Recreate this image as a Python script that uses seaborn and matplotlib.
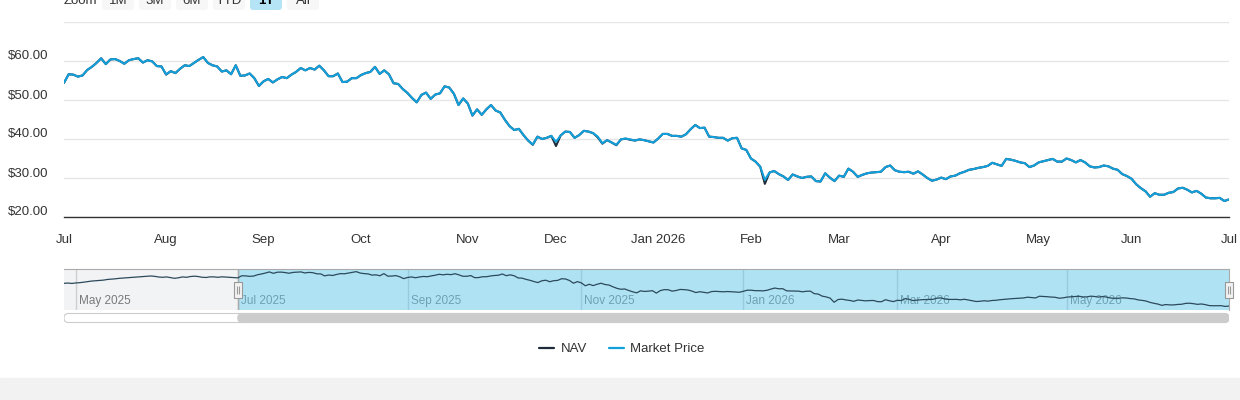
import numpy as np
import pandas as pd
import seaborn as sns
from matplotlib import pyplot as plt
from matplotlib.patches import FancyBboxPatch, Rectangle
from matplotlib.path import Path
from matplotlib.lines import Line2D
from matplotlib.transforms import blended_transform_factory, offset_copy, IdentityTransform, ScaledTranslation

sns.set_style("white")
plt.rcParams['font.family'] = ['Liberation Sans', 'DejaVu Sans']

# market holidays (trading days only, like the ordinal axis of the original)
holidays = ['2025-05-26', '2025-06-19', '2025-07-04', '2025-09-01', '2025-11-27', '2025-12-25',
            '2026-01-01', '2026-01-19', '2026-02-16', '2026-04-03', '2026-05-25', '2026-06-19']

# only shown in the navigator: 28 Apr 2025 - 30 Jun 2025
history = [48.6, 48.9, 48.5,
           49.0, 49.3, 49.8, 50.4, 51.0, 51.3, 51.6, 52.0, 52.7, 53.0, 53.4, 53.9, 54.2, 54.5, 54.8,
           55.0, 55.3, 55.6, 56.0, 56.4, 56.0,
           55.3, 55.0, 55.4, 54.6, 53.9, 54.5, 55.4, 55.0, 55.8, 56.2, 55.8, 55.0, 54.8, 55.5, 55.4,
           55.0, 55.5, 55.2, 54.9, 54.6]

# 1 Jul 2025 - 1 Jul 2026, one value per trading day
market_price = [
    54.4, 56.6, 56.5, 56.0, 56.3, 57.7, 58.5, 59.5, 60.7, 59.2, 60.4, 60.5, 60.0, 59.3, 60.2, 60.5, 60.7, 59.6, 60.2, 59.9, 58.7, 58.6,
    56.6, 57.4, 56.9, 58.0, 58.9, 58.7, 59.5, 60.3, 61.0, 59.5, 58.9, 58.6, 57.3, 57.6, 56.6, 58.9, 56.2, 56.3, 56.8, 55.6, 53.6,
    54.8, 55.4, 54.5, 55.3, 55.9, 55.6, 56.5, 57.2, 58.2, 57.6, 58.2, 57.8, 58.8, 57.6, 56.1, 56.1, 56.8, 54.6, 54.7, 55.6, 55.6,
    56.4, 56.9, 57.2, 58.5, 56.7, 57.6, 56.6, 54.3, 54.1, 52.8, 51.8, 50.5, 49.4, 51.3, 51.9, 50.3, 51.4, 51.7, 53.5, 53.2, 51.6, 48.7, 50.4,
    49.1, 46.0, 47.6, 46.2, 47.6, 48.7, 47.3, 46.8, 44.9, 43.3, 42.3, 42.6, 41.0, 39.6, 38.6, 40.6, 40.0, 40.3, 40.8,
    39.3, 40.9, 41.9, 41.8, 40.3, 41.0, 42.1, 41.9, 41.5, 40.6, 38.9, 39.7, 39.1, 38.5, 39.9, 40.1, 39.9, 39.6, 39.9, 39.7, 39.4, 39.1,
    40.1, 41.3, 41.3, 40.8, 40.8, 40.6, 41.2, 42.5, 43.6, 42.8, 42.9, 40.6, 40.5, 40.3, 40.3, 39.6, 40.2, 40.3, 37.6, 37.2,
    35.0, 34.2, 32.9, 29.5, 31.4, 31.8, 31.0, 30.4, 29.5, 30.9, 30.4, 30.0, 30.3, 30.4, 29.2, 29.1, 31.2, 30.1, 29.2,
    30.6, 30.3, 32.4, 31.6, 30.3, 30.8, 31.2, 31.4, 31.5, 31.6, 32.8, 33.2, 32.0, 31.6, 31.5, 31.6, 31.1, 31.7, 30.9, 30.0, 29.3, 29.6,
    30.1, 29.7, 30.4, 30.6, 31.2, 31.6, 32.1, 32.3, 32.6, 32.8, 33.1, 33.9, 33.5, 33.1, 34.9, 34.7, 34.4, 34.0, 33.8, 32.8, 33.2,
    34.0, 34.3, 34.6, 34.9, 34.2, 34.2, 35.0, 34.6, 34.0, 34.6, 34.0, 33.0, 32.7, 32.8, 33.2, 33.0, 32.4, 32.1, 31.0, 30.5,
    29.8, 28.4, 27.4, 26.6, 25.2, 26.1, 25.7, 25.7, 26.2, 26.4, 27.3, 27.5, 27.0, 26.3, 26.7, 26.0, 25.0, 24.8, 24.8, 24.9, 24.1,
    24.5]

nav = [
    54.4, 56.6, 56.5, 56.0, 56.3, 57.7, 58.5, 59.5, 60.7, 59.2, 60.4, 60.5, 60.0, 59.3, 60.2, 60.5, 60.7, 59.6, 60.2, 59.9, 58.7, 58.6,
    56.5, 57.4, 56.9, 58.0, 58.9, 58.7, 59.5, 60.3, 61.0, 59.5, 58.9, 58.6, 57.3, 57.6, 56.6, 58.9, 56.2, 56.3, 56.8, 55.6, 53.6,
    54.8, 55.4, 54.5, 55.3, 55.9, 55.6, 56.5, 57.2, 58.2, 57.6, 58.2, 57.8, 58.8, 57.6, 56.1, 56.1, 56.8, 54.6, 54.7, 55.6, 55.6,
    56.4, 56.9, 57.2, 58.5, 56.7, 57.6, 56.6, 54.3, 54.1, 52.8, 51.8, 50.5, 49.4, 51.3, 51.9, 50.3, 51.4, 51.7, 53.5, 53.2, 51.6, 48.7, 50.4,
    49.1, 46.0, 47.6, 46.2, 47.6, 48.7, 47.3, 46.8, 44.9, 43.3, 42.3, 42.6, 41.0, 39.6, 38.5, 40.6, 40.0, 40.3, 40.8,
    38.2, 40.9, 41.9, 41.8, 40.3, 41.0, 42.1, 41.9, 41.5, 40.4, 38.8, 39.7, 39.1, 38.4, 39.9, 40.1, 39.8, 39.6, 39.9, 39.7, 39.4, 39.1,
    40.1, 41.3, 41.3, 40.8, 40.8, 40.6, 41.2, 42.5, 43.6, 42.8, 42.9, 40.6, 40.5, 40.3, 40.3, 39.6, 40.2, 40.3, 37.6, 37.2,
    35.0, 34.2, 32.9, 28.5, 31.4, 31.8, 31.0, 30.4, 29.5, 30.9, 30.4, 30.0, 30.3, 30.4, 29.2, 29.1, 31.2, 30.1, 29.2,
    30.6, 30.3, 32.4, 31.6, 30.3, 30.8, 31.2, 31.4, 31.5, 31.6, 32.8, 33.2, 32.0, 31.6, 31.5, 31.6, 31.1, 31.7, 30.9, 30.0, 29.3, 29.6,
    30.1, 29.7, 30.4, 30.6, 31.2, 31.6, 32.1, 32.3, 32.6, 32.8, 33.1, 33.9, 33.5, 33.1, 34.9, 34.7, 34.4, 34.0, 33.8, 32.8, 33.2,
    34.0, 34.3, 34.6, 34.9, 34.2, 34.2, 35.0, 34.6, 34.0, 34.6, 34.0, 33.0, 32.7, 32.8, 33.2, 33.0, 32.4, 32.1, 31.0, 30.5,
    29.8, 28.4, 27.4, 26.6, 25.2, 26.1, 25.7, 25.7, 26.2, 26.4, 27.3, 27.5, 27.0, 26.3, 26.7, 26.0, 25.0, 24.8, 24.8, 24.9, 24.1,
    24.5]

y_ticks = [20, 30, 40, 50, 60, 70]
zoom_buttons = ['1M', '3M', '6M', 'YTD', '1Y', 'All']
selected_button = '1Y'

nav_color = '#1f2d3a'
mp_color = '#12a0dc'
text_color = '#333333'

days = pd.bdate_range('2025-04-28', '2026-07-01')
days = days[~days.isin(pd.to_datetime(holidays))]
main_days = days[days >= '2025-07-01']
n = len(main_days)
start = len(days) - n

W, H = 1240, 400


def box(x0, y0, x1, y1):
    return [x0 / W, 1 - y1 / H, (x1 - x0) / W, (y1 - y0) / H]


fig = plt.figure(figsize=(W / 100, H / 100), dpi=100)
fig.add_artist(Rectangle((0, 0), 1, 22 / H, transform=fig.transFigure, color='#f2f2f2', zorder=0))

# ---- main chart
ax = fig.add_axes(box(64, 22, 1229, 217))
df = pd.DataFrame({'day': np.tile(np.arange(n), 2),
                   'value': nav + market_price,
                   'Series': ['NAV'] * n + ['Market Price'] * n})
sns.lineplot(data=df, x='day', y='value', hue='Series', palette={'NAV': nav_color, 'Market Price': mp_color},
             linewidth=1.5, ax=ax, legend=False)
ax.set_xlim(0, n - 1)
ax.set_ylim(20, 70)
ax.set_yticks(y_ticks)
ax.set_yticklabels(['${:.2f}'.format(v) for v in y_ticks[:-1]] + [''])
ax.yaxis.grid(True, color='#e6e6e6', lw=1)
ax.set_xlabel('')
ax.set_ylabel('')
for s in ['top', 'left', 'right']:
    ax.spines[s].set_visible(False)
ax.spines['bottom'].set_color(text_color)
ax.spines['bottom'].set_linewidth(1)

month_first = pd.Series(np.arange(n)).groupby(main_days.to_period('M')).min()
ax.set_xticks(month_first.values)
ax.set_xticklabels([p.strftime('%b %Y') if p.month == 1 else p.strftime('%b') for p in month_first.index])
ax.tick_params(axis='x', length=4.5, width=0.8, color=text_color, pad=8, labelsize=9.5, labelcolor=text_color)
ax.tick_params(axis='y', length=0, pad=11, labelsize=9.5, labelcolor=text_color)
# labels sit a little above their grid lines, as in the original
lift = ScaledTranslation(0, 0.06, fig.dpi_scale_trans)
for lab in ax.get_yticklabels():
    lab.set_transform(lab.get_transform() + lift)

# ---- navigator
nav_ax = fig.add_axes(box(64, 269, 1229, 310))
m = len(days)
nav_ax.set_xlim(0, m - 1)
nav_ax.set_ylim(20.3, 63.8)
nav_ax.set_xticks([])
nav_ax.set_yticks([])
for s in ['left', 'bottom']:
    nav_ax.spines[s].set_visible(False)
nav_ax.spines['top'].set_color('#aaaaaa')
nav_ax.spines['right'].set_color('#aaaaaa')
nav_ax.axvspan(0, start, color='#f2f3f5', lw=0, zorder=0)

all_first = pd.Series(np.arange(m)).groupby(days.to_period('M')).min()
lbl_trans = offset_copy(blended_transform_factory(nav_ax.transData, nav_ax.transAxes), fig, x=3, units='dots')
for p, pos in all_first.items():
    if p.month % 2 == 1 and pos < m - 1:
        nav_ax.axvline(pos, color='#cfcfcf', lw=1, zorder=1)
        nav_ax.text(pos, 0.22, p.strftime('%b %Y'), transform=lbl_trans, ha='left', va='center',
                    fontsize=8.5, color='#7a7a7a', zorder=1)

nav_ax.axvspan(start, m - 1, color='#61c9eb', alpha=0.5, lw=0, zorder=2)
nav_ax.axvline(start, color='#aaaaaa', lw=1, zorder=2)
sns.lineplot(x=np.arange(m), y=history + nav, color='#2c4a5c', linewidth=0.9, ax=nav_ax, zorder=3)

handle_path = Path([(-3.5, -7.5), (3.5, -7.5), (3.5, 7.5), (-3.5, 7.5), (-3.5, -7.5),
                    (-1, -3.5), (-1, 3.5), (1, -3.5), (1, 3.5)],
                   [Path.MOVETO, Path.LINETO, Path.LINETO, Path.LINETO, Path.CLOSEPOLY,
                    Path.MOVETO, Path.LINETO, Path.MOVETO, Path.LINETO])
h_trans = blended_transform_factory(nav_ax.transData, nav_ax.transAxes)
nav_ax.plot([start, m - 1], [0.5, 0.5], ls='none', marker=handle_path, markersize=11,
            markerfacecolor='#f2f2f2', markeredgecolor='#999999', markeredgewidth=0.8,
            transform=h_trans, clip_on=False, zorder=5)

# ---- scrollbar
sc_ax = fig.add_axes(box(64, 312, 1229, 324))
sc_ax.set_xlim(0, m - 1)
sc_ax.set_ylim(0, 12)
sc_ax.axis('off')
px = (m - 1) / 1165
sc_ax.add_patch(FancyBboxPatch((0, 1.5), m - 1, 9, boxstyle='round,pad=0,rounding_size=%f' % (4.5 * px),
                               mutation_aspect=1 / px, fc='white', ec='#cccccc', lw=0.8))
sc_ax.add_patch(FancyBboxPatch((start, 1.5), m - 1 - start, 9, boxstyle='round,pad=0,rounding_size=%f' % (4.5 * px),
                               mutation_aspect=1 / px, fc='#cccccc', ec='#cccccc', lw=0.8))

# ---- zoom buttons (cut off at the top, as in the original)
fig.text(64 / W, 1 - 4 / H, 'Zoom', va='baseline', ha='left', fontsize=9.5, color=text_color)
for k, b in enumerate(zoom_buttons):
    x0 = 102 + 37 * k
    sel = b == selected_button
    fig.add_artist(FancyBboxPatch((x0, H - 10), 32, 25, boxstyle='round,pad=0,rounding_size=3',
                                  transform=IdentityTransform(), fc='#b5e4f6' if sel else '#f7f7f7', ec='none'))
    fig.text((x0 + 16) / W, 1 - 4 / H, b, va='baseline', ha='center', fontsize=9.5,
             color='#000000' if sel else text_color, fontweight='bold' if sel else 'normal')

# ---- legend
handles = [Line2D([], [], color=nav_color, lw=1.6), Line2D([], [], color=mp_color, lw=1.6)]
leg = fig.legend(handles, ['NAV', 'Market Price'], loc='center', bbox_to_anchor=(622 / W, 1 - 349 / H),
                 ncol=2, frameon=False, fontsize=9.5, handlelength=1.1, handletextpad=0.5, columnspacing=1.7)
for t in leg.get_texts():
    t.set_color(text_color)

fig.savefig('out.png', dpi=100)
